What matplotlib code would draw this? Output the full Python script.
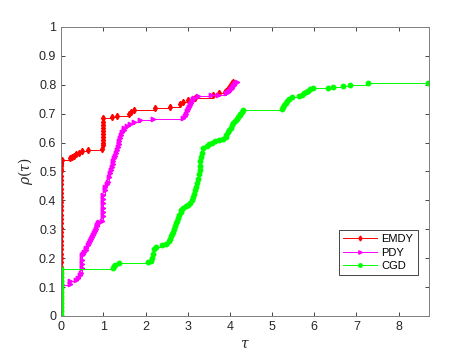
import matplotlib
matplotlib.use("Agg")
import matplotlib.pyplot as plt

plt.rcParams['font.family'] = ['Liberation Sans', 'DejaVu Sans']
plt.rcParams['mathtext.fontset'] = 'dejavuserif'

labels = ["EMDY", "PDY", "CGD"]
colors = ["#ff0000", "#ff00ff", "#00ff00"]
markers = ["d", ">", "o"]

emdy_tau = [0, 0, 0, 0, 0, 0, 0, 0, 0, 0, 0, 0, 0, 0, 0, 0, 0, 0, 0, 0, 0, 0, 0, 0, 0, 0, 0,
            0, 0, 0, 0, 0, 0, 0, 0, 0, 0, 0, 0,
            0.03, 0.21, 0.25, 0.3, 0.35, 0.42, 0.5, 0.64, 0.98,
            1.0, 1.0, 1.0, 1.0, 1.0, 1.0, 1.0, 1.0, 1.0, 1.0, 1.2, 1.33, 1.6, 1.65, 1.72, 2.23, 2.58,
            2.82, 2.9, 3.0, 3.18, 3.6, 3.75, 3.88, 3.92, 3.95, 3.97, 4.0, 4.02, 4.05, 4.08]
emdy_rho = [0.005, 0.02, 0.035, 0.05, 0.065, 0.08, 0.095, 0.11, 0.125, 0.14, 0.155, 0.17, 0.185,
            0.2, 0.215, 0.23, 0.245, 0.26, 0.275, 0.29, 0.305, 0.32, 0.335, 0.35, 0.365, 0.38,
            0.395, 0.41, 0.425, 0.44, 0.455, 0.47, 0.485, 0.5, 0.51, 0.52, 0.525, 0.53, 0.535,
            0.54, 0.545, 0.55, 0.555, 0.56, 0.565, 0.57, 0.575, 0.578,
            0.59, 0.60, 0.61, 0.62, 0.63, 0.64, 0.65, 0.66, 0.67, 0.685, 0.69, 0.693, 0.70,
            0.705, 0.713, 0.718, 0.723,
            0.735, 0.74, 0.748, 0.755, 0.765, 0.77, 0.775, 0.78, 0.785, 0.79, 0.795, 0.80,
            0.805, 0.81]

pdy_tau = [0.02, 0.2, 0.22, 0.35, 0.4, 0.45, 0.48, 0.5, 0.5, 0.5, 0.5, 0.52, 0.55, 0.58, 0.6,
           0.63, 0.66, 0.68, 0.71, 0.73, 0.76, 0.78, 0.8, 0.82, 0.84, 0.86, 0.88, 0.9, 0.98,
           1.0, 1.0, 1.0, 1.0, 1.0, 1.0, 1.03, 1.05, 1.08, 1.1, 1.13, 1.16, 1.18, 1.2, 1.22,
           1.24, 1.26, 1.28, 1.3, 1.32, 1.34, 1.36, 1.38, 1.4, 1.42, 1.45, 1.48, 1.5, 1.55,
           1.63, 1.72, 1.87, 2.18, 2.9, 2.93, 2.95, 2.98, 3.0, 3.03, 3.05, 3.08, 3.1, 3.12,
           3.15, 3.25, 3.56, 3.72, 3.9, 3.95, 3.98, 4.02, 4.05, 4.08, 4.1, 4.13, 4.16]
pdy_rho = [0.107, 0.112, 0.12, 0.125, 0.13, 0.14, 0.15, 0.165, 0.18, 0.195, 0.21, 0.215, 0.22,
           0.228, 0.235, 0.245, 0.252, 0.26, 0.265, 0.272, 0.28, 0.287, 0.295, 0.302, 0.31,
           0.315, 0.32, 0.325, 0.33, 0.345, 0.36, 0.375, 0.39, 0.405, 0.42, 0.435, 0.447,
           0.455, 0.465, 0.48, 0.495, 0.505, 0.515, 0.525, 0.535, 0.545, 0.555, 0.565, 0.575,
           0.585, 0.595, 0.605, 0.615, 0.625, 0.635, 0.645, 0.652, 0.658, 0.665, 0.672, 0.677,
           0.68, 0.685, 0.693, 0.70, 0.708, 0.715, 0.722, 0.73, 0.738, 0.745, 0.75, 0.755,
           0.762, 0.764, 0.766, 0.77, 0.775, 0.78, 0.785, 0.79, 0.795, 0.80, 0.805, 0.81]

cgd_tau = [0, 0, 0, 0, 0, 0, 0, 0, 0, 0, 0, 0, 0,
           1.22, 1.25, 1.27, 1.38, 2.07, 2.12, 2.15, 2.18, 2.2, 2.25, 2.38, 2.48, 2.55, 2.58,
           2.6, 2.63, 2.65, 2.68, 2.7, 2.73, 2.75, 2.78, 2.8, 2.83, 2.85, 2.9, 2.95, 3.0, 3.05,
           3.1, 3.12, 3.15, 3.18, 3.2, 3.22, 3.24, 3.26, 3.28, 3.29, 3.3, 3.32, 3.34, 3.37,
           3.45, 3.5, 3.58, 3.65, 3.75, 3.84, 3.9, 3.92, 3.95, 3.98, 4.02, 4.05, 4.08, 4.12,
           4.16, 4.2, 4.23, 4.25, 4.28, 4.31, 5.23, 5.26, 5.28, 5.32, 5.35, 5.4, 5.47, 5.65,
           5.72, 5.75, 5.8, 5.85, 5.9, 5.98, 6.33, 6.45, 6.68, 6.85, 7.28, 8.7]
cgd_rho = [0.005, 0.018, 0.031, 0.044, 0.057, 0.07, 0.083, 0.096, 0.109, 0.122, 0.135, 0.15,
           0.163,
           0.165, 0.172, 0.178, 0.183, 0.185, 0.19, 0.20, 0.215, 0.23, 0.24, 0.245, 0.25, 0.26,
           0.268, 0.275, 0.283, 0.29, 0.3, 0.31, 0.32, 0.33, 0.34, 0.35, 0.358, 0.365, 0.372,
           0.38, 0.385, 0.39, 0.4, 0.41, 0.423, 0.435, 0.447, 0.46, 0.475, 0.49, 0.505, 0.52,
           0.535, 0.55, 0.565, 0.58, 0.588, 0.595, 0.6, 0.605, 0.608, 0.612, 0.618, 0.625,
           0.635, 0.645, 0.652, 0.66, 0.667, 0.675, 0.683, 0.69, 0.695, 0.70, 0.707, 0.713,
           0.716, 0.723, 0.73, 0.738, 0.745, 0.752, 0.758, 0.762, 0.766, 0.77, 0.775, 0.78,
           0.784, 0.788, 0.79, 0.792, 0.796, 0.80, 0.807, 0.807]

xticks = [0, 1, 2, 3, 4, 5, 6, 7, 8]
yticks = [0, 0.1, 0.2, 0.3, 0.4, 0.5, 0.6, 0.7, 0.8, 0.9, 1]

fig = plt.figure(figsize=(4.74, 3.55), dpi=100)
ax = fig.add_axes([0.129, 0.110, 0.776, 0.814])

series = [(emdy_tau, emdy_rho), (pdy_tau, pdy_rho), (cgd_tau, cgd_rho)]
for (t, r), lab, c, m in zip(series, labels, colors, markers):
    ax.plot(t, r, drawstyle='steps-post', color=c, marker=m, markersize=3.2,
            markerfacecolor=c, markeredgecolor=c, linewidth=0.7, label=lab)

ax.set_xlim(0, 8.72)
ax.set_ylim(0, 1)
ax.set_xticks(xticks)
ax.set_yticks(yticks)
ax.set_yticklabels(["0", "0.1", "0.2", "0.3", "0.4", "0.5", "0.6", "0.7", "0.8", "0.9", "1"])
ax.tick_params(direction='in', top=True, right=True, labelsize=9, colors='#262626',
               length=3, width=0.6, labelcolor='#262626')
for s in ax.spines.values():
    s.set_color('#7f7f7f')
    s.set_linewidth(0.7)

ax.set_xlabel(r'$\tau$', fontsize=10, color='#262626', labelpad=3)
ax.set_ylabel(r'$\rho(\tau)$', fontsize=10, color='#262626', labelpad=3)

leg = ax.legend(loc='lower left', bbox_to_anchor=(0.755, 0.14), fontsize=8,
                frameon=True, fancybox=False, edgecolor='#262626', framealpha=1,
                handlelength=3.0, borderpad=0.4, labelspacing=0.3, handletextpad=0.4,
                borderaxespad=0)
leg.get_frame().set_linewidth(0.6)
for h in leg.legend_handles:
    h.set_markersize(2.5)

fig.savefig('out.png', dpi=100)
